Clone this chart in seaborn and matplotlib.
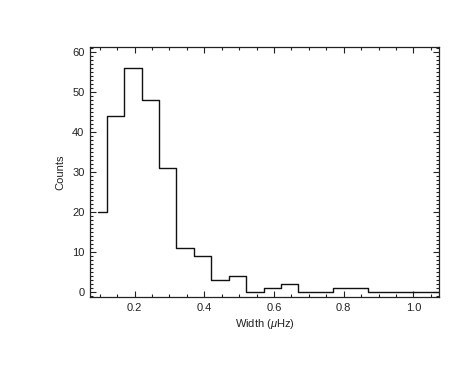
import matplotlib
matplotlib.use("Agg")
import matplotlib.pyplot as plt
from matplotlib.ticker import MultipleLocator, FormatStrFormatter
import seaborn as sns
import pandas as pd

# Histogram bin centres (μHz) and counts
bin_centers = [0.095, 0.145, 0.195, 0.245, 0.295, 0.345, 0.395, 0.445, 0.495,
               0.545, 0.595, 0.645, 0.695, 0.745, 0.795, 0.845, 0.895, 0.945,
               0.995, 1.045, 1.095]
counts = [20, 44, 56, 48, 31, 11, 9, 3, 4,
          0, 1, 2, 0, 0, 1, 1, 0, 0,
          0, 0, 0]
x_ticks = [0.2, 0.4, 0.6, 0.8, 1.0]
y_ticks = [0, 10, 20, 30, 40, 50, 60]

sns.set_style("ticks")
plt.rcParams['font.family'] = ['Liberation Sans', 'DejaVu Sans']
plt.rcParams['mathtext.fontset'] = 'custom'
plt.rcParams['mathtext.it'] = 'Liberation Sans:italic'

df = pd.DataFrame({"width": bin_centers, "count": counts})

fig = plt.figure(figsize=(4.74, 3.66), dpi=100)
ax = fig.add_axes([0.1899, 0.1872, 0.7369, 0.6852])

sns.lineplot(data=df, x="width", y="count", ax=ax, color="#111111",
             linewidth=1.0, drawstyle="steps-mid", sort=False)

ax.set_xlim(0.072, 1.0745)
ax.set_ylim(-1.3, 61.4)
ax.set_xticks(x_ticks)
ax.set_yticks(y_ticks)
ax.xaxis.set_major_formatter(FormatStrFormatter('%.1f'))
ax.xaxis.set_minor_locator(MultipleLocator(0.05))
ax.yaxis.set_minor_locator(MultipleLocator(1))

for side in ax.spines.values():
    side.set_color("#222222")
    side.set_linewidth(0.9)

ax.tick_params(which="both", direction="in", top=True, right=True,
               colors="#222222", labelsize=8, width=0.8)
ax.tick_params(which="major", length=4, pad=4)
ax.tick_params(which="minor", length=2)

ax.set_xlabel(r"Width ($\mu$Hz)", fontsize=8, labelpad=3, color="#222222")
ax.set_ylabel("Counts", fontsize=8, labelpad=5, color="#222222")

fig.savefig("out.png", dpi=100, facecolor="white")
